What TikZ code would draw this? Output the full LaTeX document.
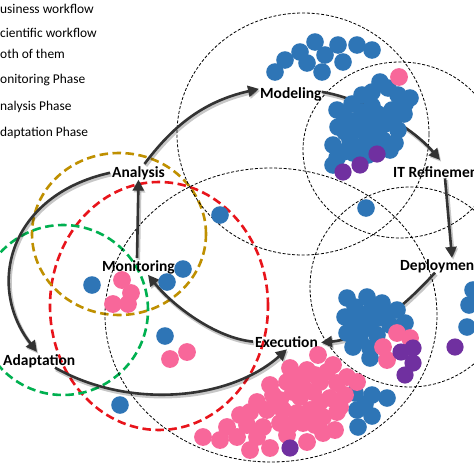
\documentclass[tikz,border=0pt]{standalone}
\usepackage{fontspec}
\setmainfont{Carlito}
\usetikzlibrary{arrows.meta}
\definecolor{dblue}{HTML}{2E75B6}
\definecolor{dpink}{HTML}{F8679A}
\definecolor{dpurple}{HTML}{7030A0}
\definecolor{cgold}{HTML}{BF9000}
\definecolor{cred}{HTML}{E8141B}
\definecolor{cgreen}{HTML}{00B050}
\definecolor{arrowc}{HTML}{333333}
\begin{document}
\begin{tikzpicture}[x=1pt,y=-1pt,
  zone/.style={draw=black, line width=0.8pt, dash pattern=on 3pt off 1.8pt},
  phase/.style={line width=2.6pt, dash pattern=on 8.5pt off 4.5pt},
  lbl/.style={font=\fontsize{15.5}{18}\selectfont\bfseries, inner sep=0pt, anchor=base west},
  leg/.style={font=\fontsize{13.4}{15}\selectfont, inner sep=0pt, anchor=base west},
  flow/.style={draw=arrowc, line width=2.6pt, -{Triangle[length=11pt,width=11pt]},
    preaction={draw=black, opacity=0.22, line width=3.8pt, transform canvas={shift={(1.2pt,-1.8pt)}}}},
  bdot/.style={fill=dblue},
  pdot/.style={fill=dpink},
  vdot/.style={fill=dpurple}]
\useasboundingbox (0,0) rectangle (474,474);
\clip (0,0) rectangle (474,474);
\fill[white] (0,0) rectangle (474,474);

% phase circles
\draw[phase, draw=cred] (159,306) ellipse [x radius=109pt, y radius=124pt];
\draw[phase, draw=cgold] (119,234) ellipse [x radius=87pt, y radius=81pt];
\draw[phase, draw=cgreen] (63,310) circle [radius=85pt];
% workflow zones
\draw[zone] (303,134) ellipse [x radius=126pt, y radius=121pt];
\draw[zone] (400,150) ellipse [x radius=97pt, y radius=88pt];
\draw[zone] (410,287) circle [radius=100pt];
\draw[zone] (271,315) ellipse [x radius=166pt, y radius=147pt];

% legend
\node[leg] (l1) at (0,13) {usiness workflow};
\node[leg] (l2) at (0,37) {cientific workflow};
\node[leg] (l3) at (0,58) {oth of them};
\node[leg] (l4) at (0,83) {onitoring Phase};
\node[leg] (l5) at (0,110) {nalysis Phase};
\node[leg] (l6) at (0,136) {daptation Phase};

% labels
\node[lbl] (modeling) at (260,98) {Modeling};
\node[lbl] (itref) at (393,177) {IT Refinemen};
\node[lbl] (deploy) at (400,270) {Deploymen};
\node[lbl] (analysis) at (112,177) {Analysis};
\node[lbl] (monitoring) at (102,271) {Monitoring};
\node[lbl] (adaptation) at (3,365) {Adaptation};
\node[lbl] (execution) at (255,347) {Execution};

% arrows
\draw[flow] ([xshift=6pt,yshift=2pt]analysis.north) .. controls (170,130) and (200,102) .. ([xshift=-1pt,yshift=5pt]modeling.west);
\draw[flow] ([yshift=2pt]modeling.east) .. controls (360,98) and (410,125) .. ([xshift=47pt,yshift=6pt]itref.north west);
\draw[flow] ([xshift=52pt,yshift=-1pt]itref.south west) -- ([xshift=52pt,yshift=1pt]deploy.north west);
\draw[flow] ([xshift=35pt]deploy.south west) .. controls (410,300) and (370,338) .. ([xshift=3pt,yshift=-1pt]execution.east);
\draw[flow] ([xshift=-2pt]execution.west) .. controls (215,338) and (172,305) .. ([xshift=46pt,yshift=-1pt]monitoring.south west);
\draw[flow] ([xshift=35pt,yshift=2pt]monitoring.north west) -- (analysis.south);
\draw[flow] ([xshift=-2pt]analysis.west) .. controls (10,195) and (-15,285) .. ([xshift=34pt,yshift=2pt]adaptation.north west);
\draw[flow] ([xshift=52pt]adaptation.south west) .. controls (130,410) and (230,400) .. ([xshift=32pt,yshift=-2pt]execution.south west);

% dots
\foreach \x/\y in {315/42,300/52,285/60,275/72,307/63,322/72,325/55,338/45,343/62,357/45,372/50,
  380/82,362/95,398/95,410/98,388/88,372/92,405/104,
  337/110,352/104,372/106,392/110,404/114,345/118,362/112,378/114,392/120,
  338/127,355/121,370/122,385/124,398/130,345/132,360/130,377/130,
  333/145,350/140,367/137,383/140,395/143,343/152,360/147,376/146,
  337/158,353/153,368/155,390/150,333/165,
  366/208,220/215,92/285,167/282,183/269,165/336,120/405,
  347/298,367/297,382/303,397/310,405/323,345/317,363/315,378/318,390/325,347/333,363/330,377/335,353/347,370/348,370/358,
  355/307,372/307,388/313,355/323,370/325,360/340,
  473/290,469/305,467/327,
  355/393,372/395,387/398,357/410,372/416,358/427,365/404}
  \fill[bdot] (\x,\y) circle [radius=8.8pt];
\foreach \x/\y in {399/77,122/280,131/293,113/304,128/304,187/352,170/359,
  397/333,410/338,383/347,387/360,
  318/355,333/365,290/368,307/370,347/377,357/382,270/385,287/382,303/387,320/382,337/383,
  300/377,315/375,327/372,293/392,320/402,273/395,345/395,
  257/402,280/400,300/397,313/392,330/398,340/407,240/415,267/410,283/410,297/413,310/410,323/417,337/412,
  250/412,290/425,315/425,
  227/427,247/425,263/427,280/423,303/423,203/437,220/440,237/437,257/437,287/435,307/442,323/433,335/430,250/450,270/448}
  \fill[pdot] (\x,\y) circle [radius=8.9pt];
\foreach \x/\y in {343/172,360/165,377/154,401/352,413/348,413/363,405/375,455/347,290/448}
  \fill[vdot] (\x,\y) circle [radius=8.6pt];
\end{tikzpicture}
\end{document}
